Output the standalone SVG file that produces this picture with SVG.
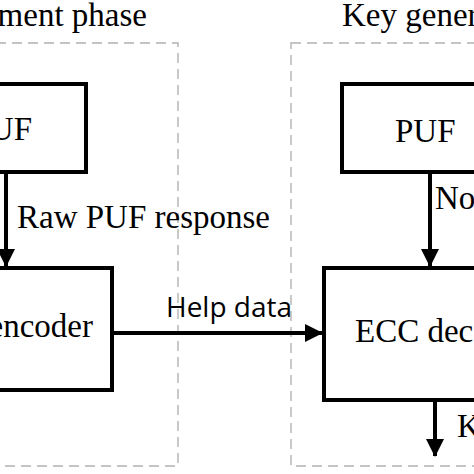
<svg xmlns="http://www.w3.org/2000/svg" width="474" height="474" viewBox="0 0 474 474">
<defs>
<marker id="ah" viewBox="0 0 18 18" refX="17" refY="9" markerWidth="18" markerHeight="18" markerUnits="userSpaceOnUse" orient="auto">
<path d="M0,0 L18,9 L0,18 Z" fill="#000"/>
</marker>
<style>
.box{fill:#fff;stroke:#000;stroke-width:4}
.phase{fill:none;stroke:#c4c4c4;stroke-width:1.8;stroke-dasharray:10,6}
.t{font-family:"Liberation Serif","Times New Roman",serif;font-size:33px;fill:#000}
.s{font-family:"Open Sans","Noto Sans",sans-serif;font-size:28px;fill:#000}
.c{stroke:#000;stroke-width:4;fill:none}
</style>
</defs>
<rect width="474" height="474" fill="#fff"/>
<g id="enroll-phase">
<rect class="phase" x="-20" y="43" width="198" height="423"/>
<text class="t" x="147" y="26" text-anchor="end">Enrollment phase</text>
</g>
<g id="keygen-phase">
<rect class="phase" x="291" y="43" width="220" height="423"/>
<text class="t" x="342" y="26">Key generation phase</text>
</g>
<g id="puf-left">
<rect class="box" x="-80" y="84" width="166" height="88"/>
<text class="t" x="32" y="140" text-anchor="end">PUF</text>
</g>
<g id="ecc-encoder">
<rect class="box" x="-100" y="268" width="212" height="122"/>
<text class="t" x="93" y="337" text-anchor="end">ECC encoder</text>
</g>
<g id="puf-right">
<rect class="box" x="342" y="84" width="200" height="88"/>
<text class="t" x="395" y="142">PUF</text>
</g>
<g id="ecc-decoder">
<rect class="box" x="324" y="268" width="220" height="132"/>
<text class="t" x="355" y="342">ECC decoder</text>
</g>
<g id="connectors">
<line class="c" x1="6" y1="172" x2="6" y2="266" marker-end="url(#ah)"/>
<text class="t" x="17" y="228">Raw PUF response</text>
<line class="c" x1="112" y1="333" x2="322" y2="333" marker-end="url(#ah)"/>
<text class="s" x="166" y="317">Help data</text>
<line class="c" x1="430" y1="172" x2="430" y2="266" marker-end="url(#ah)"/>
<text class="t" x="435" y="209">Noisy PUF response</text>
<line class="c" x1="435" y1="400" x2="435" y2="456" marker-end="url(#ah)"/>
<text class="t" x="457" y="437">Key</text>
</g>
</svg>
